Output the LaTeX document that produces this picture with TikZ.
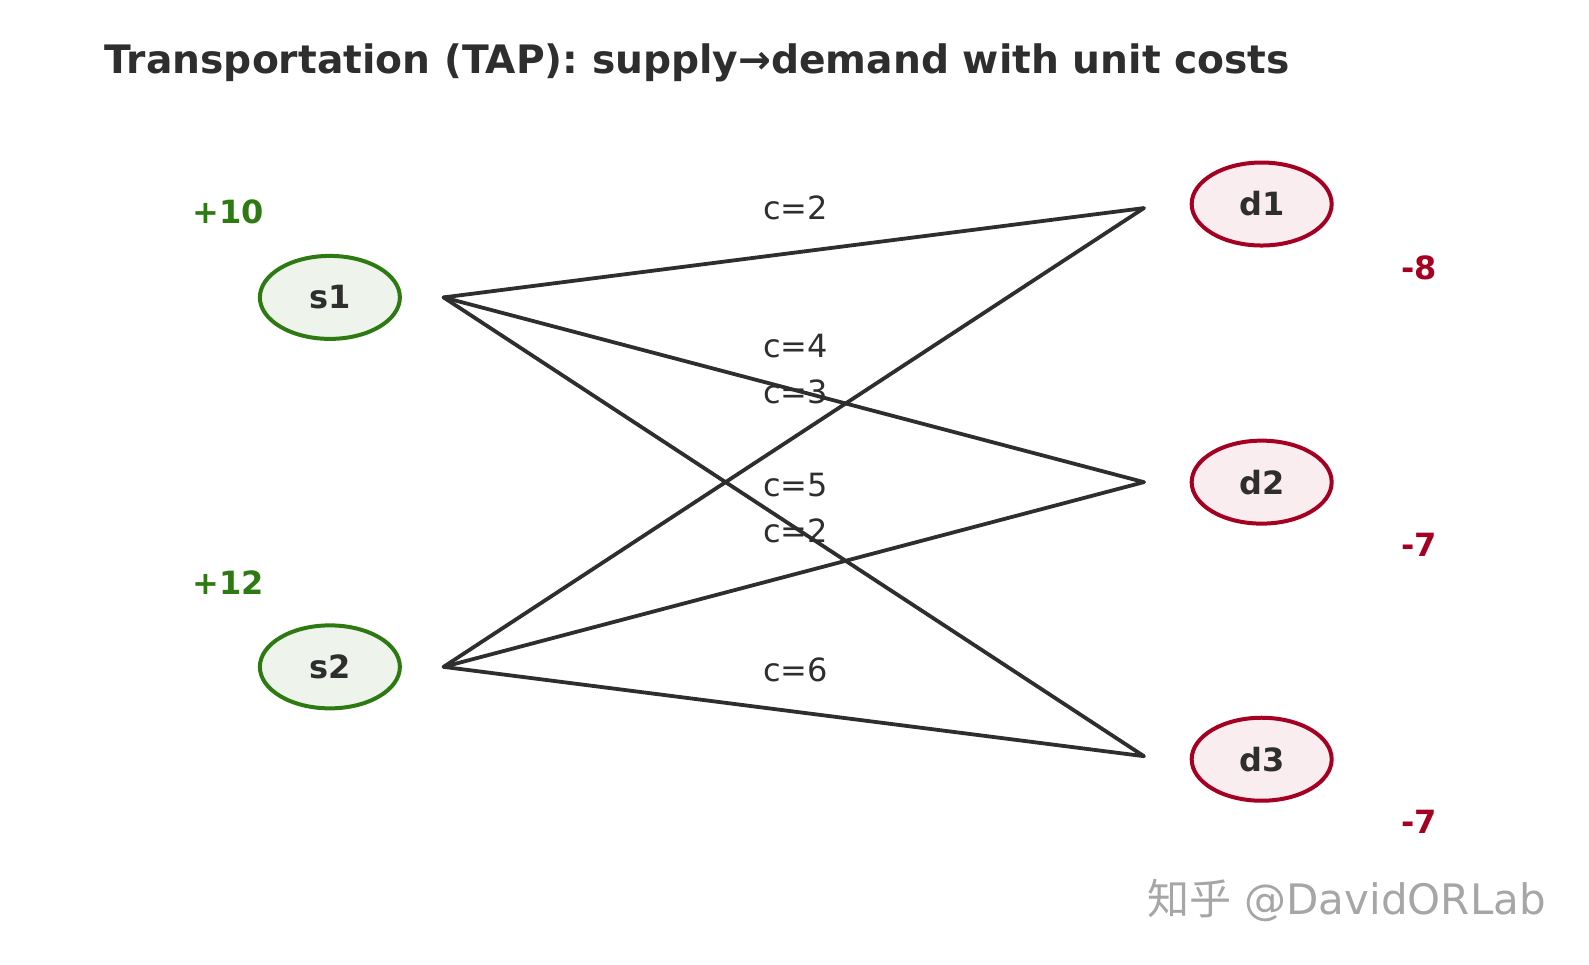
\documentclass[tikz,border=0pt]{standalone}
\usepackage{fontspec}
\setmainfont{DejaVu Sans}
\newfontfamily\cjk{Noto Sans CJK SC}
\usetikzlibrary{shapes.geometric}
\definecolor{ink}{HTML}{2E2E2E}
\definecolor{sgreen}{HTML}{2E7A12}
\definecolor{dred}{HTML}{A50021}
\begin{document}
\begin{tikzpicture}[x=0.5075pt,y=-0.5075pt,
  sup/.style={ellipse,draw=sgreen,fill=sgreen!8,line width=2pt,minimum width=70pt,minimum height=41.5pt,inner sep=0pt,font=\fontsize{16}{19}\bfseries,text=ink},
  dem/.style={ellipse,draw=dred,fill=dred!7,line width=2pt,minimum width=70pt,minimum height=41.5pt,inner sep=0pt,font=\fontsize{16}{19}\bfseries,text=ink},
  edge/.style={draw=ink,line width=1.9pt,line cap=round},
  cost/.style={font=\fontsize{16}{19}\selectfont,text=ink},
  qs/.style={font=\fontsize{16}{19}\bfseries,text=sgreen},
  qd/.style={font=\fontsize{16}{19}\bfseries,text=dred}]
\useasboundingbox (0,0) rectangle (1565.5,949.8);
\node[anchor=west,font=\fontsize{19.6}{24}\bfseries,text=ink] (title) at (96,62) {Transportation (TAP): supply→demand with unit costs};
\node[sup] (s1) at (325,293) {s1};
\node[sup] (s2) at (325,657) {s2};
\node[dem] (d1) at (1243,201) {d1};
\node[dem] (d2) at (1243,475) {d2};
\node[dem] (d3) at (1243,748) {d3};
\coordinate (o1) at (437,293);
\coordinate (o2) at (437,657);
\coordinate (i1) at (1127,205);
\coordinate (i2) at (1127,475);
\coordinate (i3) at (1127,745);
\draw[edge] (o1) -- (i1); \draw[edge] (o1) -- (i2); \draw[edge] (o1) -- (i3);
\draw[edge] (o2) -- (i1); \draw[edge] (o2) -- (i2); \draw[edge] (o2) -- (i3);
\node[cost] (c11) at (784,205) {c=2};
\node[cost] (c12) at (784,341) {c=4};
\node[cost] (c13) at (784,386) {c=3};
\node[cost] (c21) at (784,478) {c=5};
\node[cost] (c22) at (784,523) {c=2};
\node[cost] (c23) at (784,660) {c=6};
\node[qs] (q1) at (225,209) {+10};
\node[qs] (q2) at (225,574) {+12};
\node[qd] (r1) at (1398,264) {-8};
\node[qd] (r2) at (1398,537) {-7};
\node[qd] (r3) at (1398,810) {-7};
\node[anchor=east,text=black!35,font=\fontsize{21}{25}\selectfont] (wm) at (1530,887) {{\cjk 知乎} @DavidORLab};
\end{tikzpicture}
\end{document}
